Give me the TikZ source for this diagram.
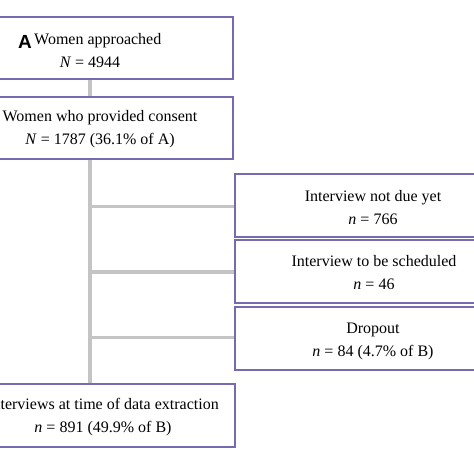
\documentclass[tikz,border=0pt]{standalone}
\usepackage{fontspec}
\setmainfont{Liberation Serif}
\newfontfamily\labelfont{Liberation Sans}
\definecolor{boxline}{RGB}{118,106,178}
\definecolor{connline}{RGB}{196,196,196}
\begin{document}
\begin{tikzpicture}[x=1pt,y=-1pt,
  box/.style={draw=boxline,line width=1.7pt,fill=white,inner sep=0pt},
  txt/.style={align=center,inner sep=0pt,font=\fontsize{16}{23}\selectfont},
  conn/.style={draw=connline,line width=3.5pt}]
\useasboundingbox (0,0) rectangle (474,474);
\clip (0,0) rectangle (474,474);
\fill[white] (0,0) rectangle (474,474);
\coordinate (vx) at (90,0);
\coordinate (b1) at (90,206.5);
\coordinate (b2) at (90,272);
\coordinate (b3) at (90,337.5);
% boxes
\node[box,minimum width=288pt,minimum height=62pt] (A) at (89,48) {};
\node[box,minimum width=268pt,minimum height=62pt] (B) at (99,128) {};
\node[box,minimum width=276pt,minimum height=63pt] (R1) at (373,205.5) {};
\node[box,minimum width=276pt,minimum height=63pt] (R2) at (373,271.5) {};
\node[box,minimum width=276pt,minimum height=63pt] (R3) at (373,338.5) {};
\node[box,minimum width=266pt,minimum height=63pt] (C) at (102,415.5) {};
% texts
\node[txt] (At) at (90,51)
  {\hphantom{\labelfont\bfseries A} Women approached\\\textit{N} = 4944};
\node[txt] (Bt) at (100,129.5)
  {Women who provided consent\\\textit{N} = 1787 (36.1\% of A)};
\node[txt] (R1t) at (373,207.5) {Interview not due yet\\\textit{n} = 766};
\node[txt] (R2t) at (374,273) {Interview to be scheduled\\\textit{n} = 46};
\node[txt] (R3t) at (373,341) {Dropout\\\textit{n} = 84 (4.7\% of B)};
\node[txt] (Ct) at (103,417)
  {Interviews at time of data extraction\\\textit{n} = 891 (49.9\% of B)};
\node[font=\labelfont\bfseries\fontsize{19}{19}\selectfont,inner sep=0pt] (Alab) at (25,42) {A};
% connectors
\path[conn] (A.south -| vx) -- (B.north -| vx);
\path[conn] (B.south -| vx) -- (C.north -| vx);
\path[conn] (b1) -- (R1.west |- b1);
\path[conn] (b2) -- (R2.west |- b2);
\path[conn] (b3) -- (R3.west |- b3);
\end{tikzpicture}
\end{document}
